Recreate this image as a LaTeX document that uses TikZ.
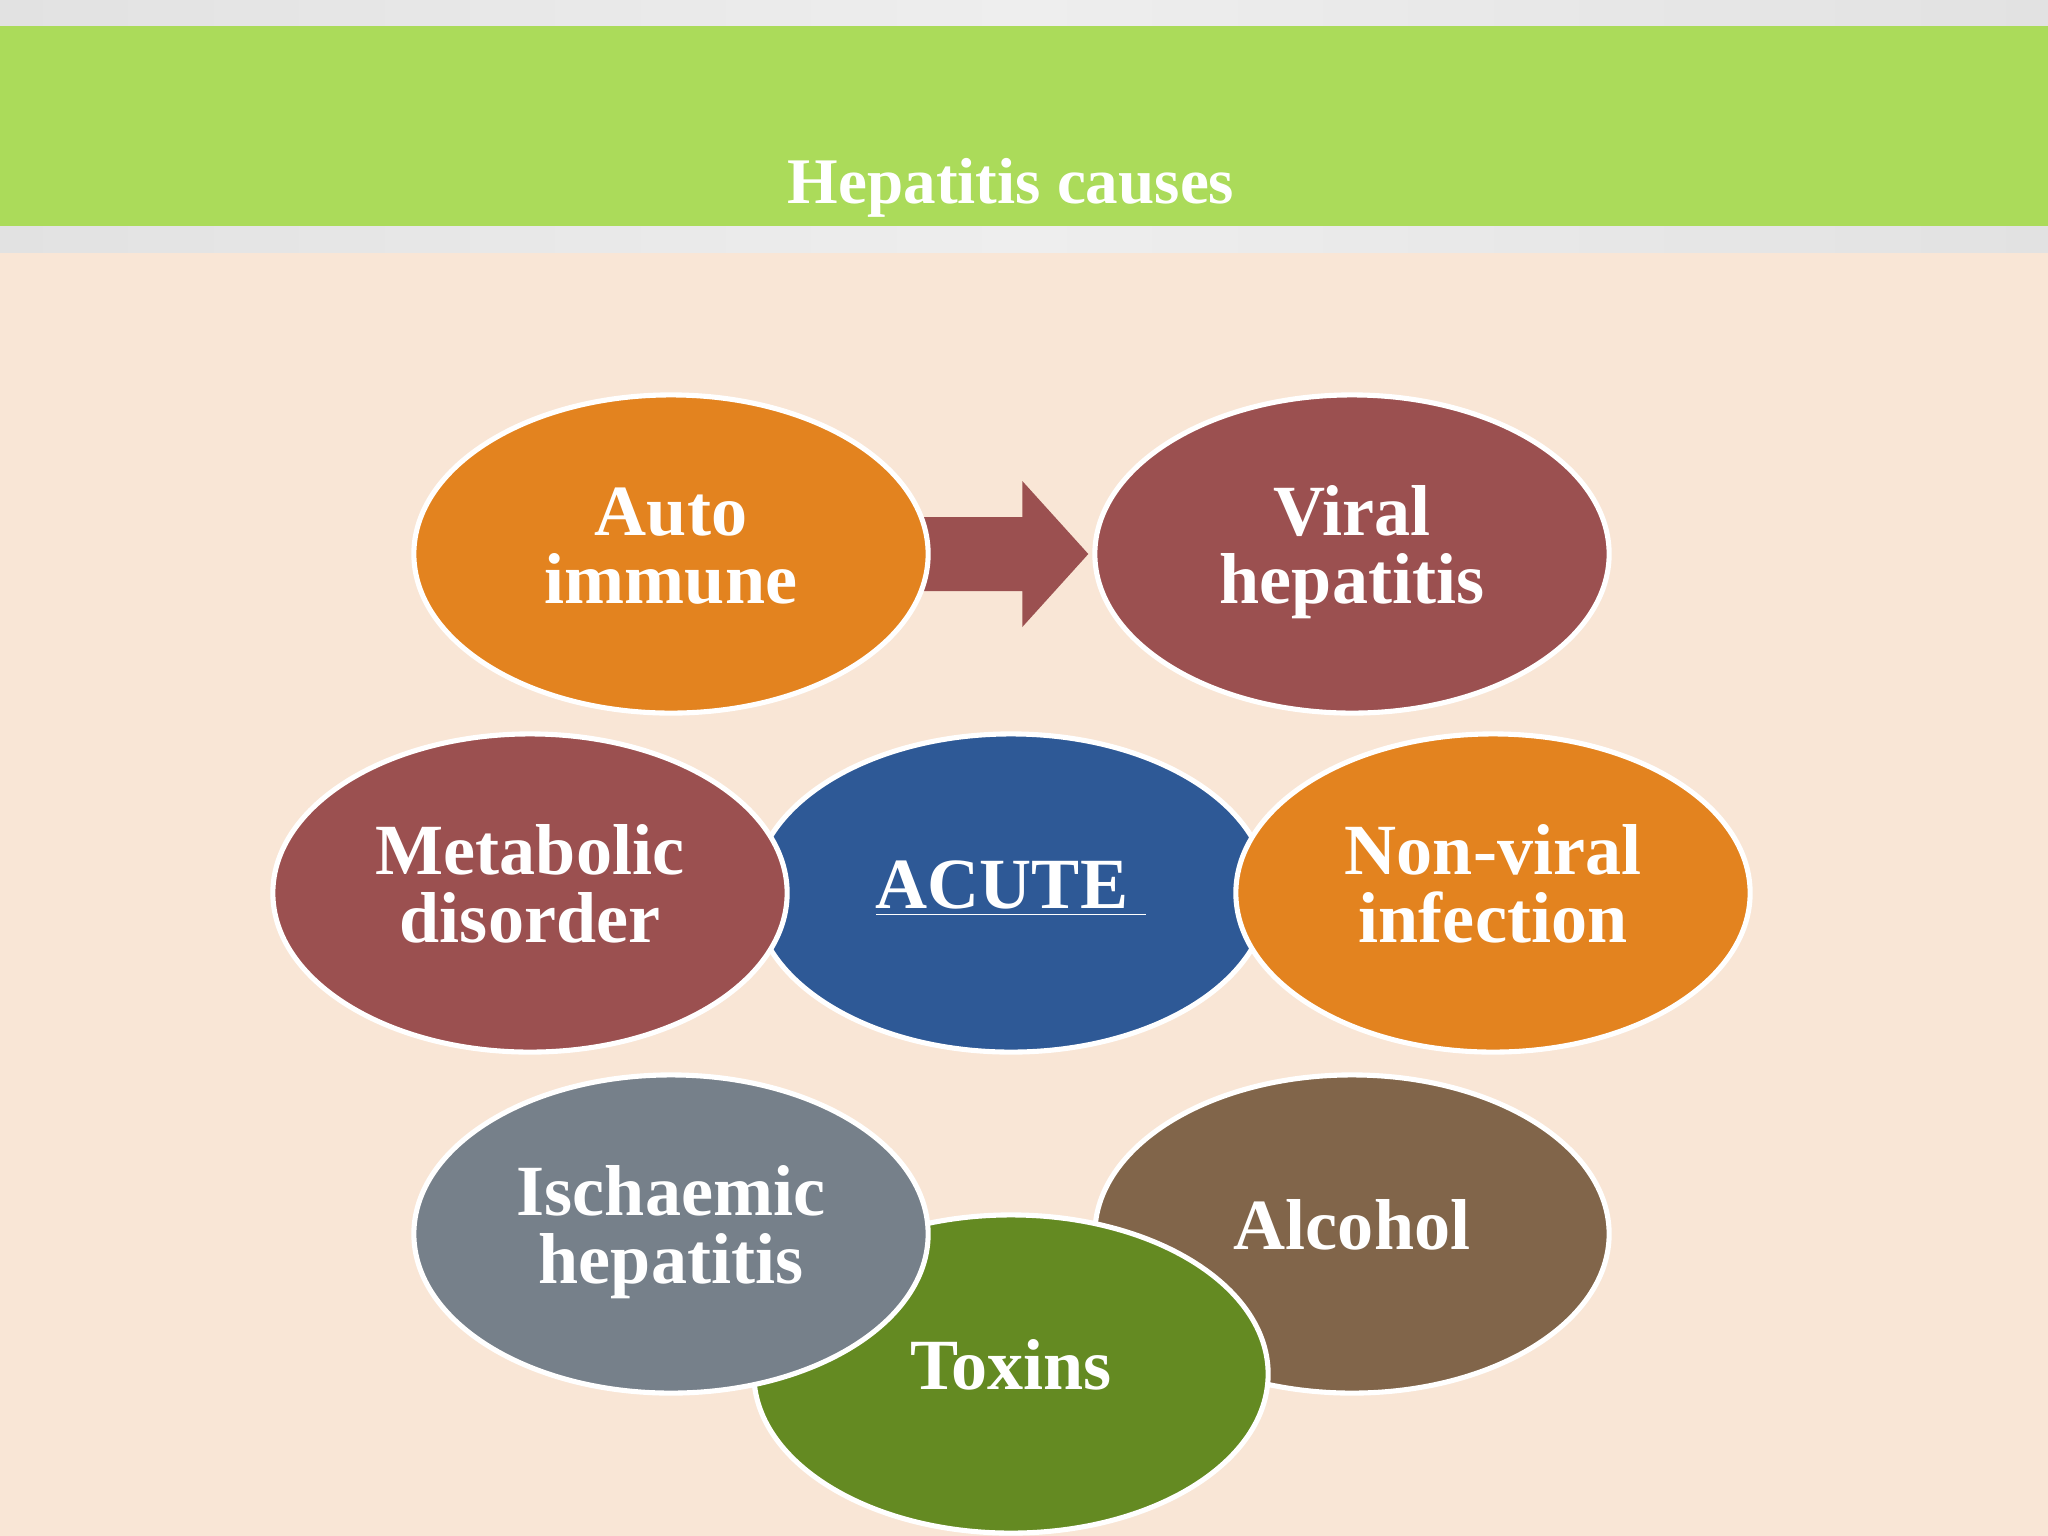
\documentclass[tikz,border=0pt]{standalone}
\usepackage{fontspec}
\setmainfont{Liberation Serif}
\usetikzlibrary{shapes.geometric,calc}
\pgfdeclarelayer{bg}
\pgfdeclarelayer{arrowlayer}
\pgfsetlayers{bg,arrowlayer,main}
\definecolor{peach}{HTML}{F9E6D6}
\definecolor{titlegreen}{HTML}{ABDB5A}
\definecolor{bandgray}{HTML}{E2E2E2}
\definecolor{bandlight}{HTML}{EEEEEE}
\definecolor{orangeA}{HTML}{E3831F}
\definecolor{maroonA}{HTML}{9B5050}
\definecolor{blueA}{HTML}{2E5996}
\definecolor{greyA}{HTML}{76808A}
\definecolor{brownA}{HTML}{81654A}
\definecolor{greenA}{HTML}{648A22}
\newcommand\tstr{\rule{0pt}{0.72em}}
\newcommand\bstr{\rule[-0.28em]{0pt}{0.28em}}
\begin{document}
\begin{tikzpicture}[x=0.01cm,y=-0.01cm,
  blob/.style={ellipse, draw=white, line width=1.45pt, minimum width=5.14cm,
    minimum height=3.18cm, inner sep=0pt, text=white, align=center,
    font=\fontsize{20.5}{19.35}\selectfont\bfseries}]
\useasboundingbox (0,0) rectangle (2048,1536);
\begin{pgfonlayer}{bg}
  \fill[peach] (0,0) rectangle (2048,1536);
  \shade[left color=bandgray, right color=bandgray, middle color=bandlight] (0,0) rectangle (2048,26);
  \fill[titlegreen] (0,26) rectangle (2048,226);
  \shade[left color=bandgray, right color=bandgray, middle color=bandlight] (0,226) rectangle (2048,252);
\end{pgfonlayer}
\node[font=\fontsize{18.5}{22}\selectfont\bfseries, text=white, anchor=base, inner sep=0pt] (title) at (1011,203) {Hepatitis causes};

\node[blob, fill=orangeA] (auto) at (671,554) {\tstr Auto\\immune\bstr};
\node[blob, fill=maroonA] (viral) at (1352,554) {\tstr Viral\\hepatitis\bstr};

\node[blob, fill=blueA] (acute) at (1011,893) {\tstr\underline{ACUTE\ }\bstr};
\node[blob, fill=maroonA] (metab) at (530,893) {\tstr Metabolic\\disorder\bstr};
\node[blob, fill=orangeA] (nonviral) at (1493,893) {\tstr Non-viral\\infection\bstr};

\node[blob, fill=brownA] (alcohol) at (1352,1234) {\tstr Alcohol\bstr};
\node[blob, fill=greenA] (toxins) at (1011,1374) {\tstr Toxins\bstr};
\node[blob, fill=greyA] (isch) at (671,1234) {\tstr Ischaemic\\hepatitis\bstr};

\begin{pgfonlayer}{arrowlayer}
  \fill[maroonA] ($(auto.east)+(-40,-37)$) -- ($(viral.west)+(-70,-37)$)
    -- ($(viral.west)+(-70,-73)$) -- ($(viral.west)+(-4,0)$)
    -- ($(viral.west)+(-70,73)$) -- ($(viral.west)+(-70,37)$)
    -- ($(auto.east)+(-40,37)$) -- cycle;
\end{pgfonlayer}
\end{tikzpicture}
\end{document}
